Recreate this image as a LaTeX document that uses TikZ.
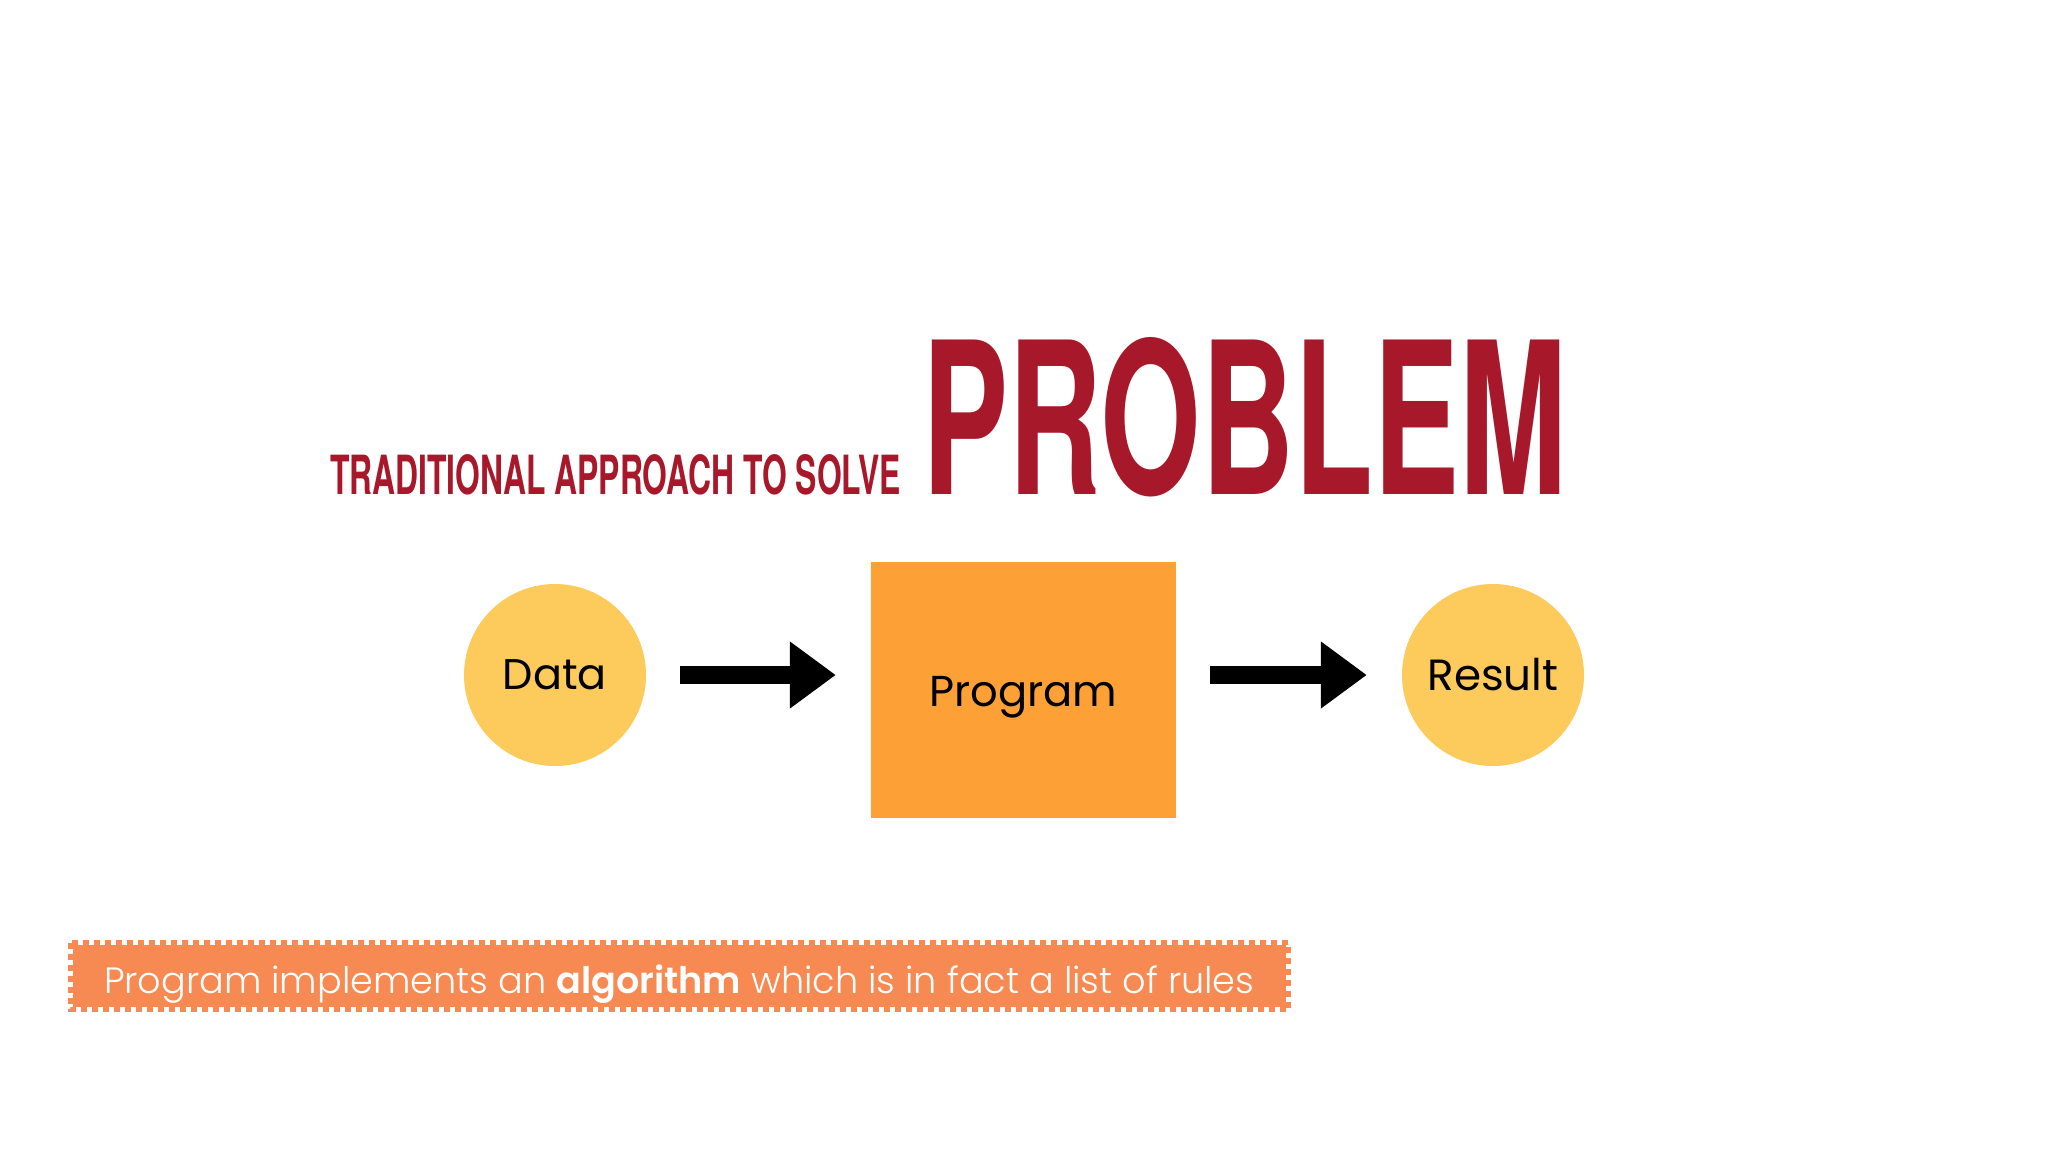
\documentclass[tikz,border=0pt]{standalone}
\usepackage{fontspec}
\setmainfont{Poppins}
\newfontfamily\titlefont{TeX Gyre Heros}
\newfontfamily\banfont{Poppins Light}[BoldFont={Poppins SemiBold}]
\usetikzlibrary{arrows.meta}
\definecolor{titlered}{HTML}{A8182B}
\definecolor{circyellow}{HTML}{FCCB5B}
\definecolor{boxorange}{HTML}{FDA036}
\definecolor{banorange}{HTML}{F78A52}
\tikzset{
  circnode/.style={circle, fill=circyellow, minimum size=182pt, inner sep=0pt},
  boxnode/.style={rectangle, fill=boxorange, minimum width=305pt, minimum height=256pt, inner sep=0pt},
  bigarrow/.style={line width=18pt, -{Triangle[length=46pt,width=64pt]}, shorten <=34pt, shorten >=35pt},
  plain/.style={inner sep=0pt, outer sep=0pt}
}
\begin{document}
\begin{tikzpicture}[x=1pt,y=-1pt]
\useasboundingbox (0,0) rectangle (2048,1152);
\fill[white] (0,0) rectangle (2048,1152);
% title
\node[plain, anchor=base west, text=titlered] (sub) at (330,494)
  {\resizebox{571pt}{40pt}{\titlefont\bfseries TRADITIONAL APPROACH TO SOLVE}};
\node[plain, anchor=base west, text=titlered] (prob) at (922,494)
  {\resizebox{645pt}{157pt}{\titlefont\bfseries PROBLEM}};
% diagram
\node[circnode] (data) at (555,675) {\resizebox{104pt}{!}{Data}};
\node[boxnode] (prog) at (1023.5,690) {};
\node[plain] (ptext) at ([yshift=-7pt]prog.center) {\resizebox{188pt}{!}{Program}};
\node[circnode] (res) at (1493,675) {\resizebox{131pt}{!}{Result}};
\draw[bigarrow] (data.east) -- (data.east -| prog.west);
\draw[bigarrow] (prog.east |- res.west) -- (res.west);
% banner
\fill[banorange] (73,945) rectangle (1286,1007);
\draw[banorange, line width=5pt, dash pattern=on 6pt off 5pt] (70.5,942.5) rectangle (1288.5,1009.5);
\node[plain, anchor=base west, text=white] (note) at (104,993)
  {\resizebox{1150pt}{!}{\banfont Program implements an \textbf{algorithm} which is in fact a list of rules}};
\end{tikzpicture}
\end{document}
